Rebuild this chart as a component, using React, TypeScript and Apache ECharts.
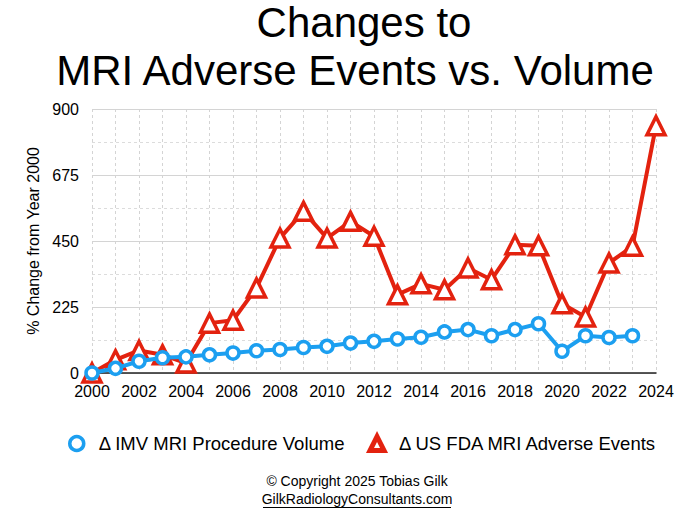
import React, { useEffect, useRef } from "react";
import * as echarts from "echarts";

const years = [
  "2000", "2001", "2002", "2003", "2004", "2005", "2006", "2007", "2008",
  "2009", "2010", "2011", "2012", "2013", "2014", "2015", "2016", "2017",
  "2018", "2019", "2020", "2021", "2022", "2023", "2024",
];

// % change from 2000 in MRI procedure volume (IMV)
const procedureVolume = [
  0, 16, 40, 52, 55, 62, 68, 76, 80, 87, 91, 102, 108, 116, 122, 140, 148,
  127, 148, 168, 74, 127, 121, 127,
];

// % change from 2000 in FDA-reported MRI adverse events
const adverseEvents = [
  0, 45, 77, 62, 34, 170, 180, 290, 460, 551, 460, 517, 466, 267, 304, 284,
  358, 318, 437, 434, 236, 191, 375, 432, 843,
];

const yTicks = [0, 225, 450, 675, 900];

const FONT = "'Liberation Sans', Arial, Helvetica, sans-serif";
const BLUE = "#1c9ff0";
const RED = "#e3220f";

const titleStyle = {
  fontFamily: FONT,
  fontSize: 42,
  lineHeight: 36,
  fontWeight: "normal",
  color: "#000",
};

export default function App() {
  const ref = useRef<HTMLDivElement>(null);

  useEffect(() => {
    document.body.style.margin = "0";
    if (!ref.current) return;
    const chart = echarts.init(ref.current, undefined, { renderer: "svg" });
    chart.setOption({
      animation: false,
      backgroundColor: "#ffffff",
      textStyle: { fontFamily: FONT },
      title: [
        {
          text: "Changes to",
          left: 364,
          top: 4,
          padding: 0,
          textAlign: "center",
          textStyle: titleStyle,
        },
        {
          text: "MRI Adverse Events vs. Volume",
          left: 355,
          top: 52,
          padding: 0,
          textAlign: "center",
          textStyle: titleStyle,
        },
      ],
      grid: { left: 92, right: 40, top: 109, bottom: 145 },
      xAxis: {
        type: "category",
        data: years,
        boundaryGap: false,
        axisLine: { lineStyle: { color: "#222", width: 1.5 } },
        axisTick: { show: false },
        axisLabel: {
          interval: 1,
          color: "#000",
          fontSize: 16,
          fontFamily: FONT,
          margin: 10,
        },
        splitLine: {
          show: true,
          interval: 0,
          lineStyle: { color: "#d4d4d4", type: [3, 3], width: 1 },
        },
      },
      yAxis: {
        type: "value",
        min: yTicks[0],
        max: yTicks[yTicks.length - 1],
        interval: 225,
        name: "% Change from Year 2000",
        nameLocation: "middle",
        nameGap: 51,
        nameTextStyle: { fontSize: 16, color: "#000", fontFamily: FONT },
        axisLine: { show: false },
        axisTick: { show: false },
        axisLabel: { color: "#000", fontSize: 16, fontFamily: FONT, margin: 13 },
        splitLine: { lineStyle: { color: "#d4d4d4", width: 1 } },
        minorTick: { show: false, splitNumber: 2 },
        minorSplitLine: {
          show: true,
          lineStyle: { color: "#dcdcdc", type: [3, 3], width: 1 },
        },
      },
      legend: {
        top: 429,
        left: 63,
        itemGap: 22,
        itemWidth: 14,
        itemHeight: 14,
        textStyle: {
          fontSize: 18.5,
          color: "#000",
          fontFamily: FONT,
          padding: [0, 0, 0, 10],
        },
        data: [
          {
            name: "Δ IMV MRI Procedure Volume",
            icon: "circle",
            itemStyle: { color: "#fff", borderColor: BLUE, borderWidth: 3.5 },
          },
          {
            name: "Δ US FDA MRI Adverse Events",
            icon: "triangle",
            itemStyle: { color: "#fff", borderColor: RED, borderWidth: 5 },
          },
        ],
      },
      series: [
        {
          name: "Δ IMV MRI Procedure Volume",
          type: "line",
          data: procedureVolume,
          symbol: "circle",
          symbolSize: 12,
          showAllSymbol: true,
          lineStyle: { color: BLUE, width: 4 },
          itemStyle: { color: "#fff", borderColor: BLUE, borderWidth: 3.5 },
          z: 3,
        },
        {
          name: "Δ US FDA MRI Adverse Events",
          type: "line",
          data: adverseEvents,
          symbol: "triangle",
          symbolSize: 18,
          showAllSymbol: true,
          lineStyle: { color: RED, width: 4 },
          itemStyle: { color: "#fff", borderColor: RED, borderWidth: 3.5 },
          z: 2,
        },
      ],
      graphic: [
        {
          type: "text",
          x: 357,
          y: 474,
          style: {
            text: "© Copyright 2025 Tobias Gilk",
            fontSize: 14,
            fontFamily: FONT,
            fill: "#000",
            align: "center",
          },
        },
        {
          type: "text",
          x: 357,
          y: 492,
          style: {
            text: "GilkRadiologyConsultants.com",
            fontSize: 14,
            fontFamily: FONT,
            fill: "#000",
            align: "center",
          },
        },
        {
          type: "line",
          shape: { x1: 263, y1: 507.5, x2: 451, y2: 507.5 },
          style: { stroke: "#000", lineWidth: 1 },
        },
      ],
    });
    return () => chart.dispose();
  }, []);

  return <div ref={ref} style={{ width: 696, height: 518 }} />;
}
